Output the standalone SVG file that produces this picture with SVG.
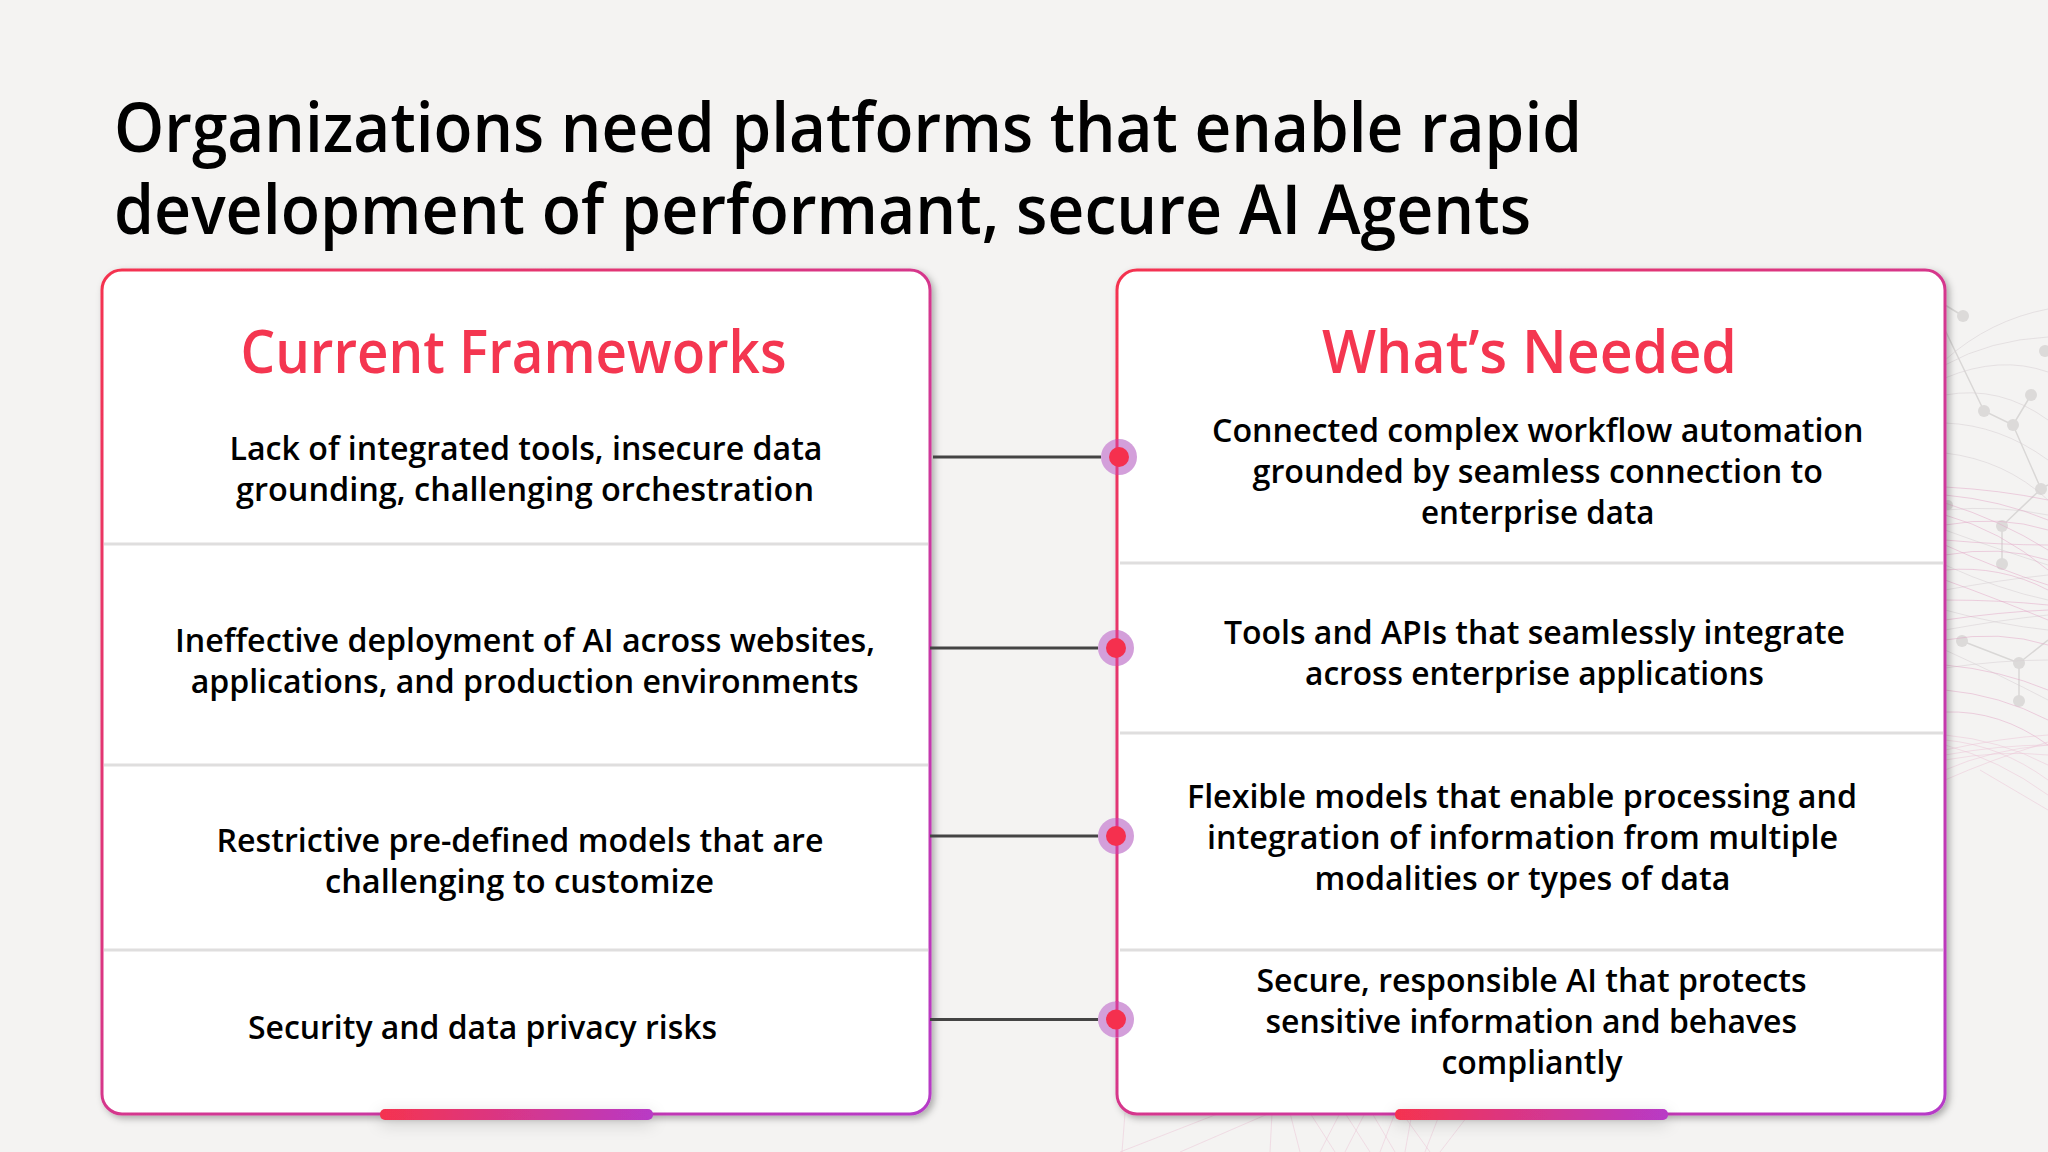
<svg xmlns="http://www.w3.org/2000/svg" width="2048" height="1152" viewBox="0 0 2048 1152">
<style>
text{font-family:"Open Sans","Noto Sans","Liberation Sans",sans-serif;font-weight:600;fill:#000}
.title{font-size:68px}
.head{font-size:60px;fill:#f43650}
.body{font-size:32px}
.panel{fill:#fff;stroke-width:3}
.sep{stroke:#dfdede;stroke-width:3;fill:none}
.conn{stroke:#444;stroke-width:3;fill:none}
.halo{fill:#d39fda}
.dot{fill:#f5304e}
.bar{fill:url(#barG)}
.n{fill:#dcdad9}
.e{stroke:#d9d7d6;stroke-width:1.5;fill:none}
.g{stroke:#d8d0d4;stroke-width:.7;fill:none;opacity:.8}
.p{stroke:#e3a9c8;stroke-width:.7;fill:none;opacity:.75}
.q{stroke:#ecc3d6;stroke-width:.6;fill:none;opacity:.85}
</style>
<defs>
<linearGradient id="pG1" x1="0" y1="0" x2="1" y2="1"><stop offset="0" stop-color="#f5334f"/><stop offset="1" stop-color="#b63ac8"/></linearGradient>
<linearGradient id="barG" x1="0" y1="0" x2="1" y2="0"><stop offset="0" stop-color="#f5334f"/><stop offset="1" stop-color="#b83ac6"/></linearGradient>
<filter id="sh" x="-5%" y="-5%" width="110%" height="110%"><feDropShadow dx="3" dy="3" stdDeviation="3.500" flood-color="#000" flood-opacity=".3"/></filter>
<filter id="bs" x="-10%" y="-100%" width="120%" height="400%"><feDropShadow dx="0" dy="4" stdDeviation="8" flood-color="#000" flood-opacity=".16"/></filter>
</defs>
<rect width="2048" height="1152" fill="#f4f3f2"/>
<g id="decor">
<path class="e" d="M1945 305L1963 316M1945 330L1984 411L2013 425L2031 395M2013 425L2041 489L2002 526L2002 564M2041 489L2048 485M1962 641L2019 663L2019 701M2019 663L2048 640"/>
<g class="n"><circle cx="1963" cy="316" r="6"/><circle cx="2045" cy="351" r="6"/><circle cx="1984" cy="411" r="6"/><circle cx="2013" cy="425" r="6"/><circle cx="2031" cy="395" r="6"/><circle cx="2041" cy="489" r="6"/><circle cx="2002" cy="526" r="6"/><circle cx="2002" cy="564" r="6"/><circle cx="1962" cy="641" r="6"/><circle cx="2019" cy="663" r="6"/><circle cx="2019" cy="701" r="6"/><circle cx="1948" cy="505" r="5"/></g>
<path class="g" d="M1945 360Q1990 320 2048 309M1945 365Q1990 340 2048 337M1945 378Q2000 355 2048 372M1945 395Q2000 385 2048 420M1945 423Q2000 425 2048 460M1945 453Q2005 460 2048 500M1945 510Q2000 505 2048 515M1945 530Q2000 550 2048 565M1945 565Q2000 590 2048 600M1945 590Q2000 580 2048 575M1945 610Q2000 625 2048 630M1945 630Q2000 620 2048 615M1945 650Q2000 675 2048 700M1945 668Q2000 660 2048 660"/>
<path class="p" d="M1945 487Q2000 490 2048 500M1945 495Q2000 500 2048 520M1945 503Q2000 520 2048 550M1945 515Q2000 530 2048 570M1945 525Q2000 515 2048 530M1945 540Q2000 545 2048 545M1945 545Q2000 570 2048 585M1945 555Q2000 545 2048 560M1945 570Q2000 565 2048 590M1945 580Q2000 600 2048 620M1945 600Q2000 600 2048 605M1945 620Q2000 612 2048 610M1945 640Q2000 630 2048 645M1945 665Q2000 670 2048 690M1945 690Q2000 695 2048 720M1945 712Q2000 710 2048 745"/>
<path class="q" d="M1945 735Q2000 740 2048 765M1945 740Q2000 745 2048 780M1945 745Q2000 760 2048 795M1945 750Q2000 738 2048 735M1945 755Q2000 745 2048 745M1945 760Q2000 750 2048 755M1945 770Q1990 750 2048 745M1945 780Q1990 760 2048 742M1980 770L2048 810"/>
<path class="q" d="M1122 1152L1125 1113M1120 1152L1220 1113M1180 1152L1270 1113M1270 1152L1272 1113M1300 1152L1290 1113M1320 1152L1340 1113M1335 1152L1310 1113M1345 1152L1365 1113M1370 1152L1345 1113M1380 1152L1395 1113M1395 1152L1372 1113M1405 1152L1412 1113M1430 1152L1402 1113M1440 1152L1470 1113M1425 1152L1440 1113"/>
</g>
<g id="panel-left">
<rect class="panel" x="102" y="270" width="828" height="844" rx="20" stroke="url(#pG1)" filter="url(#sh)"/>
<path class="sep" d="M104 544H928M104 765H928M104 950H928"/>
<rect class="bar" x="380" y="1109" width="273" height="11" rx="5" filter="url(#bs)"/>
<text class="head" x="240.500" y="373" textLength="546" lengthAdjust="spacingAndGlyphs">Current Frameworks</text>
</g>
<g id="panel-right">
<rect class="panel" x="1117" y="270" width="828" height="844" rx="20" stroke="url(#pG1)" filter="url(#sh)"/>
<path class="sep" d="M1120 563H1943M1120 733H1943M1120 950H1943"/>
<rect class="bar" x="1395" y="1109" width="273" height="11" rx="5" filter="url(#bs)"/>
<text class="head" x="1322" y="373" textLength="415" lengthAdjust="spacingAndGlyphs">What’s Needed</text>
</g>
<g id="title">
<text class="title" x="114" y="152" textLength="1468" lengthAdjust="spacingAndGlyphs">Organizations need platforms that enable rapid</text>
<text class="title" x="114" y="234" textLength="1417" lengthAdjust="spacingAndGlyphs">development of performant, secure AI Agents</text>
</g>
<g id="left-row-1"><text class="body" x="229.500" y="460" textLength="593" lengthAdjust="spacingAndGlyphs">Lack of integrated tools, insecure data</text><text class="body" x="236" y="501" textLength="578" lengthAdjust="spacingAndGlyphs">grounding, challenging orchestration</text></g>
<g id="left-row-2"><text class="body" x="175" y="652" textLength="700" lengthAdjust="spacingAndGlyphs">Ineffective deployment of AI across websites,</text><text class="body" x="190.700" y="693" textLength="668" lengthAdjust="spacingAndGlyphs">applications, and production environments</text></g>
<g id="left-row-3"><text class="body" x="216.500" y="852" textLength="607" lengthAdjust="spacingAndGlyphs">Restrictive pre-defined models that are</text><text class="body" x="325" y="893" textLength="389" lengthAdjust="spacingAndGlyphs">challenging to customize</text></g>
<g id="left-row-4"><text class="body" x="248" y="1039" textLength="469" lengthAdjust="spacingAndGlyphs">Security and data privacy risks</text></g>
<g id="right-row-1"><text class="body" x="1212" y="442" textLength="651.500" lengthAdjust="spacingAndGlyphs">Connected complex workflow automation</text><text class="body" x="1252.500" y="483" textLength="570.500" lengthAdjust="spacingAndGlyphs">grounded by seamless connection to</text><text class="body" x="1421" y="524" textLength="233.500" lengthAdjust="spacingAndGlyphs">enterprise data</text></g>
<g id="right-row-2"><text class="body" x="1224" y="644" textLength="621" lengthAdjust="spacingAndGlyphs">Tools and APIs that seamlessly integrate</text><text class="body" x="1305" y="685" textLength="459" lengthAdjust="spacingAndGlyphs">across enterprise applications</text></g>
<g id="right-row-3"><text class="body" x="1187" y="807.500" textLength="670" lengthAdjust="spacingAndGlyphs">Flexible models that enable processing and</text><text class="body" x="1207" y="848.500" textLength="631" lengthAdjust="spacingAndGlyphs">integration of information from multiple</text><text class="body" x="1314.500" y="889.500" textLength="416" lengthAdjust="spacingAndGlyphs">modalities or types of data</text></g>
<g id="right-row-4"><text class="body" x="1256.500" y="991.500" textLength="550" lengthAdjust="spacingAndGlyphs">Secure, responsible AI that protects</text><text class="body" x="1265.500" y="1032.500" textLength="531.500" lengthAdjust="spacingAndGlyphs">sensitive information and behaves</text><text class="body" x="1441.500" y="1074" textLength="181" lengthAdjust="spacingAndGlyphs">compliantly</text></g>
<g id="connectors">
<path class="conn" d="M933 457H1101M930 648H1098M930 836H1098M930 1019.500H1098"/>
<circle class="halo" cx="1119" cy="457" r="18"/><path d="M1117 439V475" stroke="#e23a80" stroke-width="3"/><circle class="dot" cx="1119" cy="457" r="10"/>
<circle class="halo" cx="1116" cy="648" r="18"/><path d="M1117 630V666" stroke="#e23a80" stroke-width="3"/><circle class="dot" cx="1116" cy="648" r="10"/>
<circle class="halo" cx="1116" cy="836" r="18"/><path d="M1117 818V854" stroke="#d83a96" stroke-width="3"/><circle class="dot" cx="1116" cy="836" r="10"/>
<circle class="halo" cx="1116" cy="1019.500" r="18"/><path d="M1117 1001V1037" stroke="#d83a96" stroke-width="3"/><circle class="dot" cx="1116" cy="1019.500" r="10"/>
</g>
</svg>
